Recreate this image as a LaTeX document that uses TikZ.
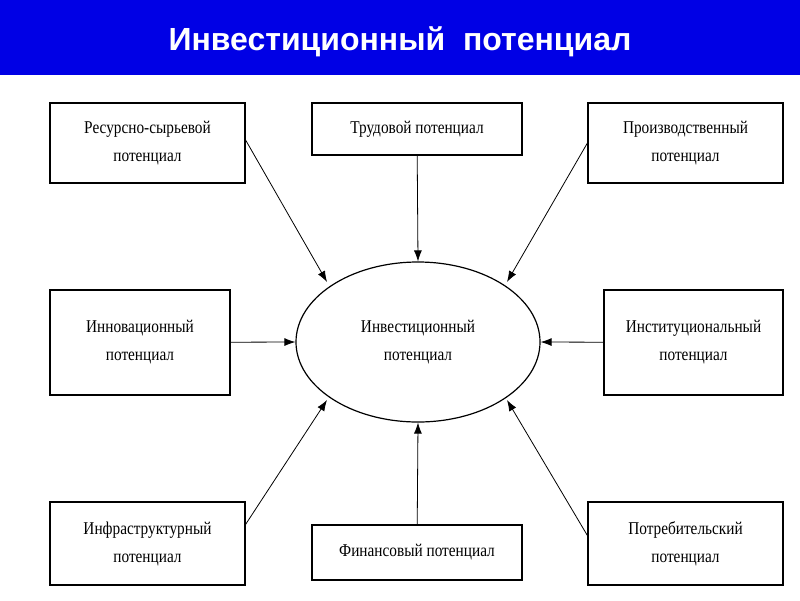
\documentclass[tikz,border=0pt]{standalone}
\usepackage{fontspec}
\setmainfont{Liberation Serif}[FakeStretch=0.85]
\newfontfamily\titlefont{Liberation Sans}
\usetikzlibrary{arrows.meta,shapes.geometric}
\tikzset{
 box/.style={draw,line width=1.2pt,align=center,font=\fontsize{18}{28}\selectfont,inner sep=0pt},
 arr/.style={-{Latex[length=11pt,width=8pt]},line width=0.8pt}
}
\begin{document}
\begin{tikzpicture}[x=1pt,y=-1pt]
\useasboundingbox (0,0) rectangle (800,600);
\fill[white] (0,0) rectangle (800,600);
\fill[blue!90!black] (0,0) rectangle (800,75);
\node[text=white,font=\titlefont\bfseries\fontsize{32}{36}\selectfont] (title) at (400,42) {Инвестиционный\ \ потенциал};
\node[box,minimum width=195pt,minimum height=80pt] (rs) at (147.5,143) {Ресурсно-сырьевой\\потенциал};
\node[box,minimum width=210pt,minimum height=52pt] (tr) at (417,129) {Трудовой потенциал};
\node[box,minimum width=195pt,minimum height=80pt] (pr) at (685.5,143) {Производственный\\потенциал};
\node[box,minimum width=180pt,minimum height=105pt] (in) at (140,342.5) {Инновационный\\потенциал};
\node[box,minimum width=179pt,minimum height=105pt] (ins) at (693.5,342.5) {Институциональный\\потенциал};
\node[box,minimum width=195pt,minimum height=83pt] (inf) at (147.5,543.5) {Инфраструктурный\\потенциал};
\node[box,minimum width=210pt,minimum height=55pt] (fin) at (417,552.5) {Финансовый потенциал};
\node[box,minimum width=195pt,minimum height=83pt] (pot) at (685.5,543.5) {Потребительский\\потенциал};
\node[draw,line width=1.2pt,ellipse,minimum width=244pt,minimum height=160pt,inner sep=0pt,align=center,font=\fontsize{18}{28}\selectfont] (e) at (418,342) {Инвестиционный\\потенциал};
\coordinate (t1) at (327,282);
\coordinate (t2) at (507,282);
\coordinate (t3) at (327,400);
\coordinate (t4) at (507,400);
\draw[arr] (rs.east) ++(0,-3) -- (t1);
\draw[arr] (tr) -- (e.north);
\draw[arr] (pr.west) -- (t2);
\draw[arr] (in) -- (e.west);
\draw[arr] (ins) -- (e.east);
\draw[arr] (inf.north east) ++(0,23) -- (t3);
\draw[arr] (fin) -- (e.south);
\draw[arr] (pot.west) ++(0,-8) -- (t4);
\end{tikzpicture}
\end{document}
